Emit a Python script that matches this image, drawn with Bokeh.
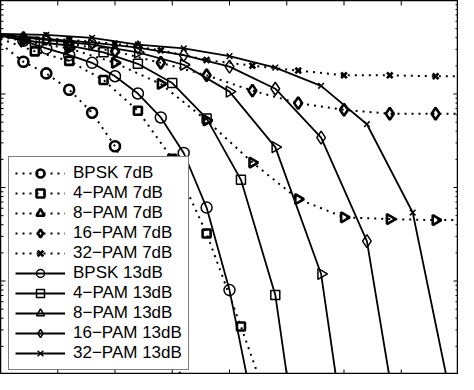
import numpy as np
from bokeh.plotting import figure
from bokeh.models import Legend, LegendItem, Range1d
from bokeh.embed import file_html
from bokeh.resources import INLINE

x_ticks = [0, 5, 10, 15, 20, 25, 30, 35, 40]
y_major_ticks = [1e-4, 1e-3, 1e-2, 1e-1, 1e0]
y_minor_mult = [2, 3, 4, 5, 6, 7, 8, 9]

# ---- 7 dB curves (dotted) ----
bpsk7_snr = [0, 2, 4, 6, 8, 10, 12, 14, 16, 18]
bpsk7_ber = [0.345, 0.221, 0.166, 0.1112, 0.0631, 0.0276, 0.0085, 0.0015, 0.00006, 0.000002]
bpsk7_mk = [2, 4, 6, 8, 10, 12, 14, 16, 18]

pam4_7_snr = [0, 3, 6, 9, 12, 15, 18, 21, 24]
pam4_7_ber = [0.389, 0.286, 0.226, 0.141, 0.0662, 0.0203, 0.00322, 0.000326, 0.00003]
pam4_7_mk = [3, 6, 9, 12, 15, 18, 21, 24]

pam8_7_snr = [0, 2, 6, 10, 14, 18, 22, 26, 30, 34, 38, 40]
pam8_7_ber = [0.408, 0.371, 0.307, 0.2154, 0.128, 0.0522, 0.0185, 0.00753, 0.0048, 0.00459, 0.00448, 0.00448]
pam8_7_mk = [2, 6, 10, 14, 18, 22, 26, 30, 34, 38]

pam16_7_snr = [0, 2, 6, 10, 14, 18, 22, 26, 30, 34, 38, 40]
pam16_7_ber = [0.418, 0.398, 0.345, 0.286, 0.2154, 0.1585, 0.1086, 0.0799, 0.0677, 0.0616, 0.0616, 0.0616]
pam16_7_mk = [2, 6, 10, 14, 18, 22, 26, 30, 34, 38]

pam32_7_snr = [0, 2, 6, 10, 14, 18, 22, 26, 30, 34, 38, 40]
pam32_7_ber = [0.428, 0.408, 0.38, 0.345, 0.293, 0.231, 0.2008, 0.178, 0.1585, 0.1585, 0.1548, 0.1548]
pam32_7_mk = [2, 6, 10, 14, 18, 22, 26, 30, 34, 38]

# ---- 13 dB curves (solid) ----
bpsk13_snr = [0, 2, 4, 6, 8, 10, 12, 14, 16, 18, 20, 22]
bpsk13_ber = [0.428, 0.371, 0.307, 0.26, 0.2154, 0.1548, 0.1012, 0.0561, 0.0234, 0.0061, 0.0008, 0.000049]
bpsk13_mk = [2, 4, 6, 8, 10, 12, 14, 16, 18, 20, 22]

pam4_13_snr = [0, 3, 6, 9, 12, 15, 18, 21, 24, 27]
pam4_13_ber = [0.418, 0.362, 0.33, 0.279, 0.2104, 0.131, 0.0548, 0.01208, 0.00071, 0.000002]
pam4_13_mk = [3, 6, 9, 12, 15, 18, 21, 24, 27]

pam8_13_snr = [0, 4, 8, 12, 16, 20, 24, 28, 32]
pam8_13_ber = [0.428, 0.38, 0.338, 0.279, 0.2055, 0.106, 0.027, 0.00119, 0.0000005]
pam8_13_mk = [4, 8, 12, 16, 20, 24, 28, 32]

pam16_13_snr = [0, 4, 8, 12, 16, 20, 24, 28, 32, 36]
pam16_13_ber = [0.428, 0.389, 0.354, 0.314, 0.26, 0.196, 0.1139, 0.0341, 0.00267, 0.000003]
pam16_13_mk = [4, 8, 12, 16, 20, 24, 28, 32, 36]

pam32_13_snr = [0, 4, 8, 12, 16, 20, 24, 28, 32, 36, 40]
pam32_13_ber = [0.438, 0.428, 0.398, 0.338, 0.307, 0.254, 0.1914, 0.1223, 0.0475, 0.0054, 0.0000226]
pam32_13_mk = [4, 8, 12, 16, 20, 24, 28, 32, 36]

labels = ["BPSK 7dB", "4\u2212PAM 7dB", "8\u2212PAM 7dB", "16\u2212PAM 7dB", "32\u2212PAM 7dB",
          "BPSK 13dB", "4\u2212PAM 13dB", "8\u2212PAM 13dB", "16\u2212PAM 13dB", "32\u2212PAM 13dB"]

series = [
    (bpsk7_snr, bpsk7_ber, bpsk7_mk),
    (pam4_7_snr, pam4_7_ber, pam4_7_mk),
    (pam8_7_snr, pam8_7_ber, pam8_7_mk),
    (pam16_7_snr, pam16_7_ber, pam16_7_mk),
    (pam32_7_snr, pam32_7_ber, pam32_7_mk),
    (bpsk13_snr, bpsk13_ber, bpsk13_mk),
    (pam4_13_snr, pam4_13_ber, pam4_13_mk),
    (pam8_13_snr, pam8_13_ber, pam8_13_mk),
    (pam16_13_snr, pam16_13_ber, pam16_13_mk),
    (pam32_13_snr, pam32_13_ber, pam32_13_mk),
]

markers = ["circle", "square", "triangle", "diamond", "x"] * 2
sizes_7 = [10, 8, 10, 12, 8]
sizes_13 = [11, 9, 11, 13, 8]
angles = [0, 0, -np.pi / 2, 0, 0] * 2

W, H = 458, 374
p = figure(width=W, height=H, output_backend="svg", toolbar_location=None,
           y_axis_type="log", x_range=Range1d(0, 40), y_range=Range1d(1e-4, 1),
           x_axis_location=None, y_axis_location=None,
           min_border=0, min_border_left=0, min_border_right=0,
           min_border_top=0, min_border_bottom=0)
p.background_fill_color = "white"
p.border_fill_color = "white"
p.outline_line_color = "black"
p.outline_line_width = 1.5
p.xgrid.visible = False
p.ygrid.visible = False

# inward tick marks (half of each dash is clipped by the frame)
x0, x1 = p.x_range.start, p.x_range.end
y0, y1 = p.y_range.start, p.y_range.end
xt = np.array(x_ticks, dtype=float)
p.scatter(np.concatenate([xt, xt]), np.concatenate([np.full(len(xt), y0), np.full(len(xt), y1)]),
          marker="dash", angle=np.pi / 2, size=10, line_color="black", line_width=1)
ym = np.array(y_major_ticks, dtype=float)
p.scatter(np.concatenate([np.full(len(ym), x0), np.full(len(ym), x1)]), np.concatenate([ym, ym]),
          marker="dash", size=10, line_color="black", line_width=1)
yn = np.array([m * d for d in y_major_ticks[:-1] for m in y_minor_mult])
p.scatter(np.concatenate([np.full(len(yn), x0), np.full(len(yn), x1)]), np.concatenate([yn, yn]),
          marker="dash", size=6, line_color="black", line_width=1)

items = []
for i, (snr, ber, mk) in enumerate(series):
    snr_a = np.array(snr, dtype=float)
    ber_a = np.array(ber, dtype=float)
    mask = np.isin(snr_a, np.array(mk, dtype=float))
    dotted = i < 5
    if dotted:
        lr = p.line(snr_a, ber_a, line_color="black", line_width=2, line_dash="2 5")
        mw = 2.6
        sz = sizes_7[i % 5]
    else:
        lr = p.line(snr_a, ber_a, line_color="black", line_width=1.8)
        mw = 1.5
        sz = sizes_13[i % 5]
    sr = p.scatter(snr_a[mask], ber_a[mask], marker=markers[i], size=sz, angle=angles[i],
                   line_color="black", line_width=mw, fill_color=None)
    items.append(LegendItem(label=labels[i], renderers=[lr, sr]))

legend = Legend(items=items, location=(8, 4))
legend.label_text_font = "Liberation Sans"
legend.label_text_font_size = "17px"
legend.label_text_color = "black"
legend.glyph_width = 50
legend.glyph_height = 20
legend.label_height = 20
legend.spacing = 0
legend.padding = 6
legend.margin = 0
legend.label_standoff = 8
legend.border_line_color = "black"
legend.border_line_width = 1.2
legend.background_fill_color = "white"
legend.background_fill_alpha = 1.0
p.add_layout(legend)

open("out.html", "w").write(file_html(p, INLINE))
